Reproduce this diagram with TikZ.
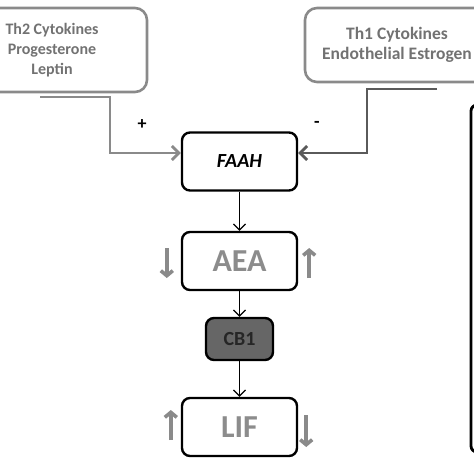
\documentclass[tikz,border=0pt]{standalone}
\usepackage{fontspec}
\setmainfont{Carlito}
\usepackage{tikz}
\usetikzlibrary{arrows.meta,positioning}
\definecolor{srcgrey}{HTML}{8A8A8A}
\definecolor{txtgrey}{HTML}{727272}
\definecolor{darkconn}{HTML}{5A5A5A}
\definecolor{bigtxt}{HTML}{8C8C8C}
\definecolor{cbfill}{HTML}{666666}
\tikzset{
    source box/.style={draw=srcgrey,line width=2.6pt,rounded corners=12pt,align=center,text=txtgrey},
    path box/.style={draw=black,line width=2.4pt,rounded corners=8pt,minimum width=115pt,minimum height=58pt,inner sep=0pt},
    cb box/.style={path box,fill=cbfill,minimum width=67pt,minimum height=42pt,text=black!85,
        font=\bfseries\fontsize{20}{22}\selectfont},
    big label/.style={text=bigtxt,font=\bfseries\fontsize{32}{34}\selectfont},
    arr/.style={-{Straight Barb[length=6pt,width=12pt]},line width=1.2pt},
    gconn/.style={-{Straight Barb[length=7pt,width=14pt]},line width=2.8pt,color=srcgrey},
    dconn/.style={gconn,color=darkconn},
    trend/.style={-{Straight Barb[length=5pt,width=12pt]},line width=3.6pt,color=srcgrey},
}

\begin{document}
\begin{tikzpicture}[x=1pt,y=-1pt]
    \useasboundingbox (0,0) rectangle (474,474);
    \clip (0,0) rectangle (474,474);

    \node[source box,minimum width=190pt,minimum height=84pt,font=\bfseries\fontsize{16}{20}\selectfont] (th2) at (52,50)
        {Th2 Cytokines\\Progesterone\\Leptin};
    \node[source box,minimum width=184pt,minimum height=74pt,font=\bfseries\fontsize{17.5}{20}\selectfont] (th1) at (397,45)
        {Th1 Cytokines\\Endothelial Estrogen};

    \node[path box,font=\bfseries\itshape\fontsize{20}{22}\selectfont] (faah) at (239.5,161.5) {FAAH};
    \node[path box,big label] (aea) at (239.5,261) {AEA};
    \node[cb box] (cb1) at (239.5,339) {CB1};
    \node[path box,big label] (lif) at (239.5,427) {LIF};

    % regulators
    \coordinate (th2 tail) at (40,97);
    \coordinate (th1 tail) at (437,89);
    \draw[gconn] (th2 tail) -- ++(70,0) |- ([yshift=8.5pt]faah.west);
    \draw[dconn] (th1 tail) -- ++(-70,0) |- ([yshift=8.5pt]faah.east);
    \node[font=\bfseries\fontsize{18}{20}\selectfont] (plus) at (142,125) {+};
    \node[font=\bfseries\fontsize{18}{20}\selectfont] (minus) at (317,124) {-};

    \draw[arr] (faah) -- (aea);
    \draw[arr] (aea) -- (cb1);
    \draw[arr] (cb1) -- (lif);

    % up / down changes
    \draw[trend] ([xshift=-14pt,yshift=13pt]aea.west) -- ([xshift=-14pt,yshift=-17pt]aea.west);
    \draw[trend] ([xshift=11pt,yshift=-17pt]aea.east) -- ([xshift=11pt,yshift=13pt]aea.east);
    \draw[trend] ([xshift=-10pt,yshift=-13pt]lif.west) -- ([xshift=-10pt,yshift=17pt]lif.west);
    \draw[trend] ([xshift=8pt,yshift=12pt]lif.east) -- ([xshift=8pt,yshift=-20pt]lif.east);

    \draw[line width=2.8pt,rounded corners=6pt] (560,105) rectangle (471,452);
\end{tikzpicture}
\end{document}
